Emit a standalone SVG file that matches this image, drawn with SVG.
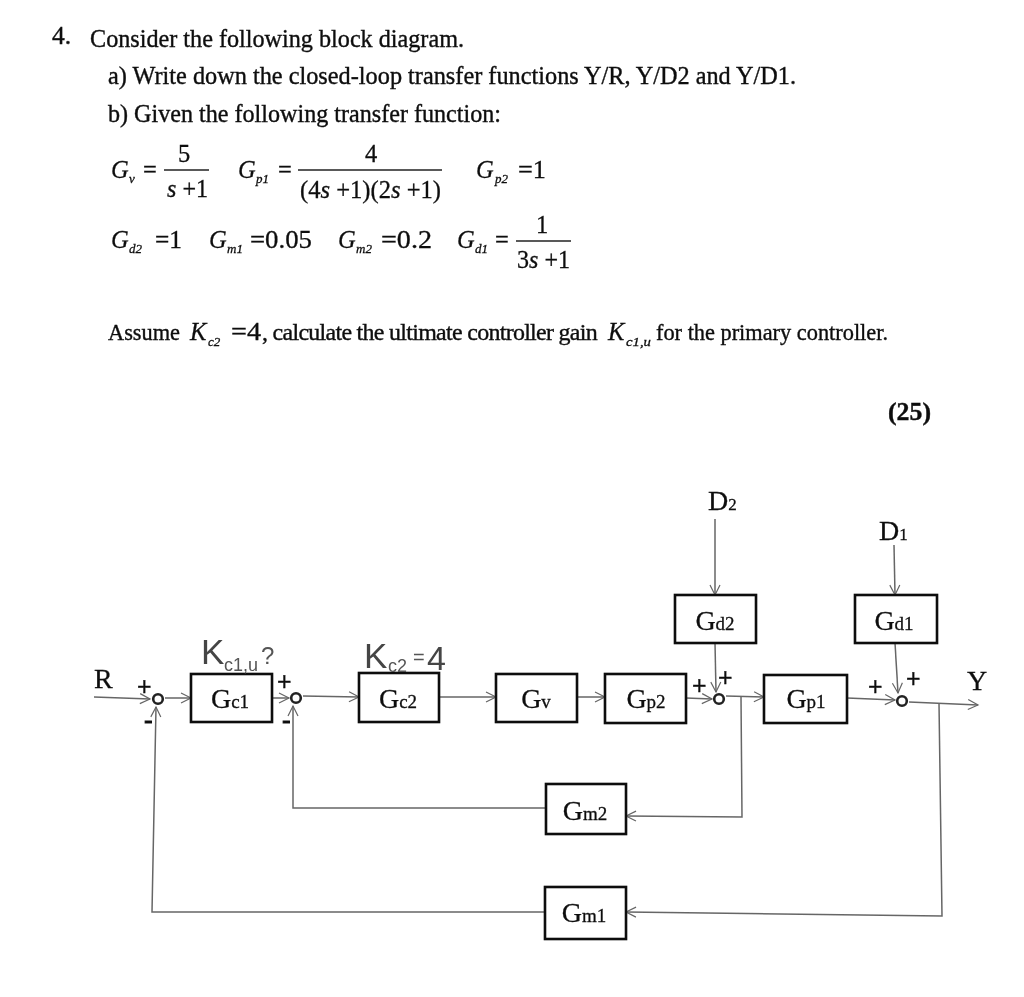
<svg xmlns="http://www.w3.org/2000/svg" width="1024" height="997" viewBox="0 0 1024 997">
<defs>
<filter id="soft" x="-2%" y="-2%" width="104%" height="104%"><feGaussianBlur stdDeviation="0.55"/></filter>
<marker id="arr" markerWidth="13" markerHeight="12" refX="11" refY="6" orient="auto" markerUnits="userSpaceOnUse"><path d="M1,1 L11,6 L1,11" fill="none" stroke="#666" stroke-width="1.2"/></marker>
</defs>
<style>
text{font-family:"Liberation Serif","Times New Roman",serif;fill:#111}
.q{font-size:25.5px;stroke:#111;stroke-width:.4px}
.a{font-size:24px;stroke:#111;stroke-width:.4px}
.i{font-style:italic}
.m{font-size:24.5px;stroke:#111;stroke-width:.3px}
.s{font-size:13px;stroke:#111;stroke-width:.3px}
.b{font-size:28px;text-anchor:middle;stroke:#111;stroke-width:.3px}
.sm{font-size:19px}
.l{font-size:28px;stroke:#111;stroke-width:.3px}
.p{font-size:25px;font-family:"Liberation Sans",sans-serif;stroke:#111;stroke-width:.3px}
.minus{font-size:26px;font-family:"Liberation Sans",sans-serif;stroke:#111;stroke-width:1px}
.h{font-family:"Liberation Sans",sans-serif;fill:#444;font-size:35px}
.hs{font-family:"Liberation Sans",sans-serif;fill:#555;font-size:18px}
rect.n{fill:#fff;stroke:#111;stroke-width:2.6}
.c{fill:none;stroke:#666;stroke-width:1.5}
.f{stroke:#222;stroke-width:1.6}
circle.j{fill:#fff;stroke:#222;stroke-width:2.6}
</style>
<rect width="1024" height="997" fill="#fff"/>
<g filter="url(#soft)">
<g id="question">
<text class="q" x="52" y="44">4.</text>
<text class="q" x="90" y="47" textLength="374" lengthAdjust="spacingAndGlyphs">Consider the following block diagram.</text>
<text class="q" x="108" y="84" textLength="688" lengthAdjust="spacingAndGlyphs">a) Write down the closed-loop transfer functions Y/R, Y/D2 and Y/D1.</text>
<text class="q" x="108" y="122" textLength="393" lengthAdjust="spacingAndGlyphs">b) Given the following transfer function:</text>
<text class="m i" x="111" y="178">G</text><text class="s i" x="129" y="183">v</text><text class="m" x="143" y="178">=</text>
<text class="m" x="178" y="162">5</text><line class="f" x1="164" y1="170" x2="209" y2="170"/><text class="m" x="167" y="197" textLength="41" lengthAdjust="spacingAndGlyphs"><tspan class="i">s</tspan> +1</text>
<text class="m i" x="238" y="178">G</text><text class="s i" x="256" y="183">p1</text><text class="m" x="278" y="178">=</text>
<text class="m" x="365" y="162">4</text><line class="f" x1="298" y1="170" x2="442" y2="170"/><text class="m" x="300" y="198" textLength="141" lengthAdjust="spacingAndGlyphs">(4<tspan class="i">s</tspan> +1)(2<tspan class="i">s</tspan> +1)</text>
<text class="m i" x="476" y="178">G</text><text class="s i" x="495" y="183">p2</text><text class="m" x="518" y="178" textLength="28" lengthAdjust="spacingAndGlyphs">=1</text>
<text class="m i" x="111" y="248">G</text><text class="s i" x="129" y="253">d2</text><text class="m" x="155" y="248" textLength="27" lengthAdjust="spacingAndGlyphs">=1</text>
<text class="m i" x="209" y="248">G</text><text class="s i" x="227" y="253">m1</text><text class="m" x="250" y="248" textLength="62" lengthAdjust="spacingAndGlyphs">=0.05</text>
<text class="m i" x="338" y="248">G</text><text class="s i" x="356" y="253">m2</text><text class="m" x="381" y="248" textLength="51" lengthAdjust="spacingAndGlyphs">=0.2</text>
<text class="m i" x="457" y="248">G</text><text class="s i" x="475" y="253">d1</text><text class="m" x="495" y="248">=</text>
<text class="m" x="536" y="233">1</text><line class="f" x1="516" y1="241" x2="571" y2="241"/><text class="m" x="517" y="268" textLength="53" lengthAdjust="spacingAndGlyphs">3<tspan class="i">s</tspan> +1</text>
<text class="a" x="108" y="340" textLength="72" lengthAdjust="spacingAndGlyphs">Assume</text>
<text class="m i" x="190" y="340">K</text><text class="s i" x="208" y="346">c2</text><text class="m" x="231" y="340" textLength="30" lengthAdjust="spacingAndGlyphs">=4</text>
<text class="a" x="262" y="340" style="letter-spacing:-.7px" textLength="335" lengthAdjust="spacingAndGlyphs">, calculate the ultimate controller gain</text>
<text class="m i" x="608" y="340">K</text><text class="s i" x="626" y="346" textLength="25" lengthAdjust="spacingAndGlyphs">c1,u</text>
<text class="a" x="656" y="340" textLength="232" lengthAdjust="spacingAndGlyphs">for the primary controller.</text>
<text class="q" x="888" y="420" font-weight="bold" textLength="43" lengthAdjust="spacingAndGlyphs">(25)</text>
</g>
<g id="connectors">
<path class="c" d="M94,697 L150,699" marker-end="url(#arr)"/>
<path class="c" d="M165,698 L191,698" marker-end="url(#arr)"/>
<path class="c" d="M272,698 L289,698" marker-end="url(#arr)"/>
<path class="c" d="M303,696 L359,697" marker-end="url(#arr)"/>
<path class="c" d="M439,697 L496,697" marker-end="url(#arr)"/>
<path class="c" d="M577,697 L605,697" marker-end="url(#arr)"/>
<path class="c" d="M686,698 L712,699" marker-end="url(#arr)"/>
<path class="c" d="M726,696 L764,697" marker-end="url(#arr)"/>
<path class="c" d="M847,698 L895,700" marker-end="url(#arr)"/>
<path class="c" d="M909,702 L978,705" marker-end="url(#arr)"/>
<path class="c" d="M715,519 L715,595" marker-end="url(#arr)"/>
<path class="c" d="M894,545 L895,595" marker-end="url(#arr)"/>
<path class="c" d="M715,643 L716,692" marker-end="url(#arr)"/>
<path class="c" d="M895,643 L898,693" marker-end="url(#arr)"/>
<path class="c" d="M741,697 L742,817 L626,816" marker-end="url(#arr)"/>
<path class="c" d="M546,808 L293,808 L293,706" marker-end="url(#arr)"/>
<path class="c" d="M939,703 L942,916 L626,912" marker-end="url(#arr)"/>
<path class="c" d="M545,912 L152,912 L156,707" marker-end="url(#arr)"/>
</g>
<g id="sum1"><circle class="j" cx="158" cy="699" r="4.8"/><text class="p" x="137" y="695">+</text><text class="minus" x="144" y="729">-</text></g>
<g id="sum2"><circle class="j" cx="296" cy="698" r="4.8"/><text class="p" x="277" y="690">+</text><text class="minus" x="282" y="729">-</text></g>
<g id="sum3"><circle class="j" cx="719" cy="699" r="4.8"/><text class="p" x="692" y="694">+</text><text class="p" x="718" y="686">+</text></g>
<g id="sum4"><circle class="j" cx="902" cy="701" r="4.8"/><text class="p" x="868" y="695">+</text><text class="p" x="906" y="687">+</text></g>
<g id="R"><text class="l" x="94" y="688">R</text></g>
<g id="Y"><text class="l" x="967" y="690">Y</text></g>
<g id="D2"><text class="l" x="708" y="510">D<tspan class="sm" style="font-size:17px">2</tspan></text></g>
<g id="D1"><text class="l" x="879" y="540">D<tspan class="sm" style="font-size:17px">1</tspan></text></g>
<g id="Gc1"><rect class="n" x="191" y="674" width="81" height="48"/><text class="b" x="230" y="708">G<tspan class="sm">c1</tspan></text></g>
<g id="Gc2"><rect class="n" x="359" y="673" width="80" height="49"/><text class="b" x="398" y="708">G<tspan class="sm">c2</tspan></text></g>
<g id="Gv"><rect class="n" x="496" y="674" width="81" height="48"/><text class="b" x="536" y="708">G<tspan class="sm">v</tspan></text></g>
<g id="Gp2"><rect class="n" x="605" y="674" width="81" height="49"/><text class="b" x="646" y="708">G<tspan class="sm">p2</tspan></text></g>
<g id="Gp1"><rect class="n" x="764" y="675" width="83" height="48"/><text class="b" x="806" y="708">G<tspan class="sm">p1</tspan></text></g>
<g id="Gd2"><rect class="n" x="675" y="595" width="81" height="48"/><text class="b" x="715" y="630">G<tspan class="sm">d2</tspan></text></g>
<g id="Gd1"><rect class="n" x="855" y="595" width="82" height="48"/><text class="b" x="894" y="630">G<tspan class="sm">d1</tspan></text></g>
<g id="Gm2"><rect class="n" x="546" y="784" width="80" height="50"/><text class="b" x="585" y="820">G<tspan class="sm">m2</tspan></text></g>
<g id="Gm1"><rect class="n" x="545" y="887" width="81" height="52"/><text class="b" x="584" y="922">G<tspan class="sm">m1</tspan></text></g>
<g id="annotations">
<text class="h" x="201" y="664">K</text><text class="hs" x="224" y="671">c1,u</text><text class="hs" x="261" y="664" style="font-size:24px">?</text>
<text class="h" x="364" y="668">K</text><text class="hs" x="388" y="672">c2</text><text class="hs" x="413" y="664" style="font-size:20px">=</text><text class="h" x="427" y="670" style="font-size:34px">4</text>
</g>
</g>
</svg>
